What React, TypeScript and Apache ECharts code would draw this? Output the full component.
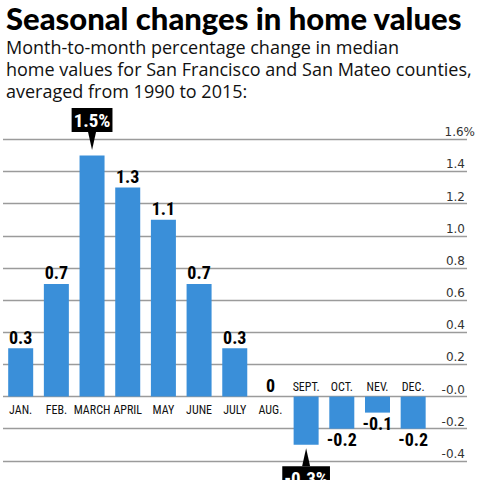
import React, { useRef, useEffect } from "react";
import * as echarts from "echarts";

// chart data
const months = ["JAN.", "FEB.", "MARCH", "APRIL", "MAY", "JUNE", "JULY", "AUG.", "SEPT.", "OCT.", "NEV.", "DEC."];
const changes = [0.3, 0.7, 1.5, 1.3, 1.1, 0.7, 0.3, 0, -0.3, -0.2, -0.1, -0.2];
const yMin = -0.6;
const yMax = 1.6;
const yStep = 0.2;

const titleText = "Seasonal changes in home values";
const subtitleLines = [
  "Month-to-month percentage change in median",
  "home values for San Francisco and San Mateo counties,",
  "averaged from 1990 to 2015:",
];

const NARROW = '"Roboto Condensed", "Liberation Sans Narrow", "DejaVu Sans Condensed", sans-serif';
const BAR_COLOR = "#3a8fd9";
const GRID_COLOR = "#9b9b9b";

// canvas is a bit taller than the 480px window so the -0.6 gridline falls just off the page
const HEIGHT = 492.6;
const PLOT_TOP = 139.3;
const PLOT_BOTTOM = 0;

const peakIdx = changes.indexOf(Math.max(...changes));
const troughIdx = changes.indexOf(Math.min(...changes));

const fmtValue = (v: number) => (v === 0 ? "0" : v.toFixed(1));

// value axis that only carries a scale
const hiddenY = (gridIndex: number) => ({
  gridIndex,
  type: "value",
  min: yMin,
  max: yMax,
  interval: yStep,
  show: false,
});

const monthAxis = (inside: boolean) => ({
  gridIndex: 2,
  type: "category",
  position: "bottom",
  data: months,
  axisLine: { show: false, onZero: false },
  axisTick: { show: false },
  axisLabel: {
    interval: 0,
    inside,
    margin: inside ? 4 : 7,
    fontFamily: NARROW,
    fontSize: 12,
    color: "#111",
    // months with a drop get their name above the zero line
    formatter: (m: string, i: number) => ((changes[i] < 0) === inside ? m : ""),
  },
});

const App = () => {
  const chartRef = useRef<HTMLDivElement>(null);

  useEffect(() => {
    const chart = echarts.init(chartRef.current, null, { renderer: "svg" });

    // pixel row of the zero line, so the month-label grid can end on it
    const plotH = HEIGHT - PLOT_TOP - PLOT_BOTTOM;
    const zeroY = PLOT_TOP + (plotH * yMax) / (yMax - yMin);

    const barData = changes.map((v, i) => ({
      value: v,
      label: {
        show: i !== peakIdx && i !== troughIdx,
        position: v < 0 ? "bottom" : "top",
        distance: 2,
      },
    }));

    const calloutData = [peakIdx, troughIdx].map((i) => {
      const up = changes[i] >= 0;
      return {
        coord: [months[i], changes[i]],
        value: changes[i],
        symbol: "triangle",
        symbolRotate: up ? 180 : 0,
        symbolSize: [8, 18],
        symbolOffset: [0, up ? -14.5 : 12.5],
        itemStyle: { color: "#000" },
        label: {
          show: true,
          position: up ? "top" : "bottom",
          distance: 0,
          formatter: `${fmtValue(changes[i])}%`,
          backgroundColor: "#000",
          color: "#fff",
          fontFamily: NARROW,
          fontWeight: "bold",
          fontSize: 19,
          padding: [3, 2, 2, 2],
        },
      };
    });

    const plotBox = { top: PLOT_TOP, bottom: PLOT_BOTTOM, outerBoundsMode: "none", containLabel: false };

    chart.setOption({
      animation: false,
      title: {
        left: 1,
        top: -3,
        text: titleText,
        textStyle: {
          fontFamily: "Lato",
          fontWeight: 900,
          fontSize: 31,
          lineHeight: 31,
          color: "#000",
        },
        subtext: subtitleLines.join("\n"),
        subtextStyle: {
          fontFamily: '"Open Sans", sans-serif',
          fontSize: 18,
          lineHeight: 22,
          color: "#111",
        },
        itemGap: 3,
      },
      grid: [
        { left: 3, right: 13, ...plotBox },
        { left: 2.85, right: 49, ...plotBox },
        {
          left: 2.85,
          right: 49,
          top: PLOT_TOP,
          bottom: HEIGHT - zeroY,
          outerBoundsMode: "none",
          containLabel: false,
        },
      ],
      xAxis: [
        { gridIndex: 0, type: "value", show: false },
        {
          gridIndex: 1,
          type: "category",
          data: months,
          axisLine: { show: false, onZero: false },
          axisTick: { show: false },
          axisLabel: { show: false },
        },
        monthAxis(false),
        monthAxis(true),
      ],
      yAxis: [
        {
          gridIndex: 0,
          type: "value",
          position: "right",
          min: yMin,
          max: yMax,
          interval: yStep,
          axisLine: { show: false },
          axisTick: { show: false },
          splitLine: { lineStyle: { color: GRID_COLOR, width: 1.3 } },
          axisLabel: {
            inside: true,
            margin: 2,
            align: "right",
            verticalAlign: "bottom",
            padding: [0, 0, 1, 0],
            fontFamily: '"DejaVu Sans", sans-serif',
            fontSize: 12,
            color: "#333",
            formatter: (v: number) => {
              const s = Math.abs(v) < 1e-9 ? "-0.0" : v.toFixed(1);
              return v > yMax - 1e-9 ? `{n|${s}%}` : s;
            },
            rich: {
              n: {
                padding: [0, -10, 0, 0],
                fontFamily: '"DejaVu Sans", sans-serif',
                fontSize: 12,
                color: "#333",
              },
            },
          },
        },
        hiddenY(1),
        { gridIndex: 2, type: "value", show: false },
      ],
      series: [
        {
          type: "bar",
          xAxisIndex: 1,
          yAxisIndex: 1,
          barWidth: 25,
          itemStyle: { color: BAR_COLOR },
          label: {
            fontFamily: NARROW,
            fontWeight: "bold",
            fontSize: 18,
            color: "#000",
            formatter: (p: any) => fmtValue(p.value),
          },
          data: barData,
          markPoint: {
            data: calloutData,
          },
        },
      ],
    });

    return () => {
      chart.dispose();
    };
  }, []);

  return (
    <div
      ref={chartRef}
      style={{ position: "fixed", left: 0, top: 0, width: 480, height: HEIGHT, background: "#fff" }}
    />
  );
};

export default App;
